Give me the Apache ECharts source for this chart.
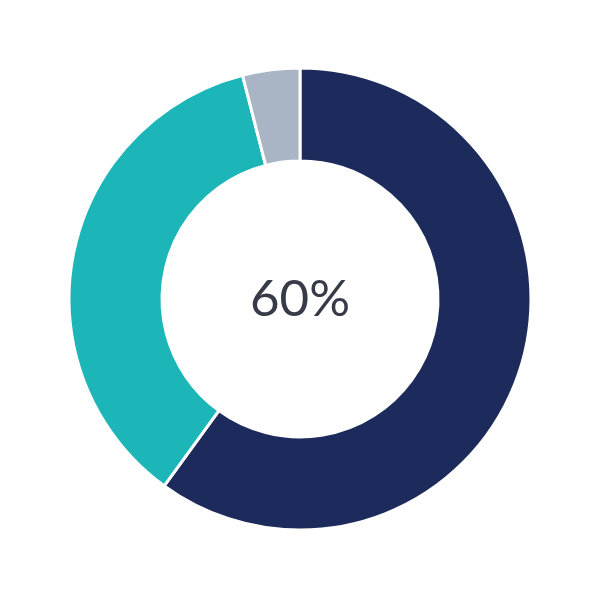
<!DOCTYPE html>
<html><head><meta charset="utf-8">
<script src="https://cdn.jsdelivr.net/npm/echarts@6/dist/echarts.min.js"></script>
<style>html,body{margin:0;padding:0;background:#fff}#c{width:600px;height:599px}</style>
</head><body><div id="c"></div>
<script>
const categories = ['A', 'B', 'C'];
const values = [60, 36, 4];
const colors = ['#1c2b5b', '#1cb5b8', '#a9b4c4'];
const centerLabel = '60%';
const chart = echarts.init(document.getElementById('c'));
chart.setOption({
  animation: false,
  title: {
    text: centerLabel, left: 'center', top: 'middle',
    textStyle: { fontFamily: 'Lato', fontWeight: 'normal', fontSize: 51, color: '#363b47' }
  },
  series: [{
    type: 'pie',
    center: [300, 299],
    radius: [138, 231],
    startAngle: 90,
    clockwise: true,
    label: { show: false },
    labelLine: { show: false },
    itemStyle: { borderColor: '#fff', borderWidth: 3 },
    data: categories.map((c, i) => ({ name: c, value: values[i], itemStyle: { color: colors[i] } }))
  }]
});
</script></body></html>
